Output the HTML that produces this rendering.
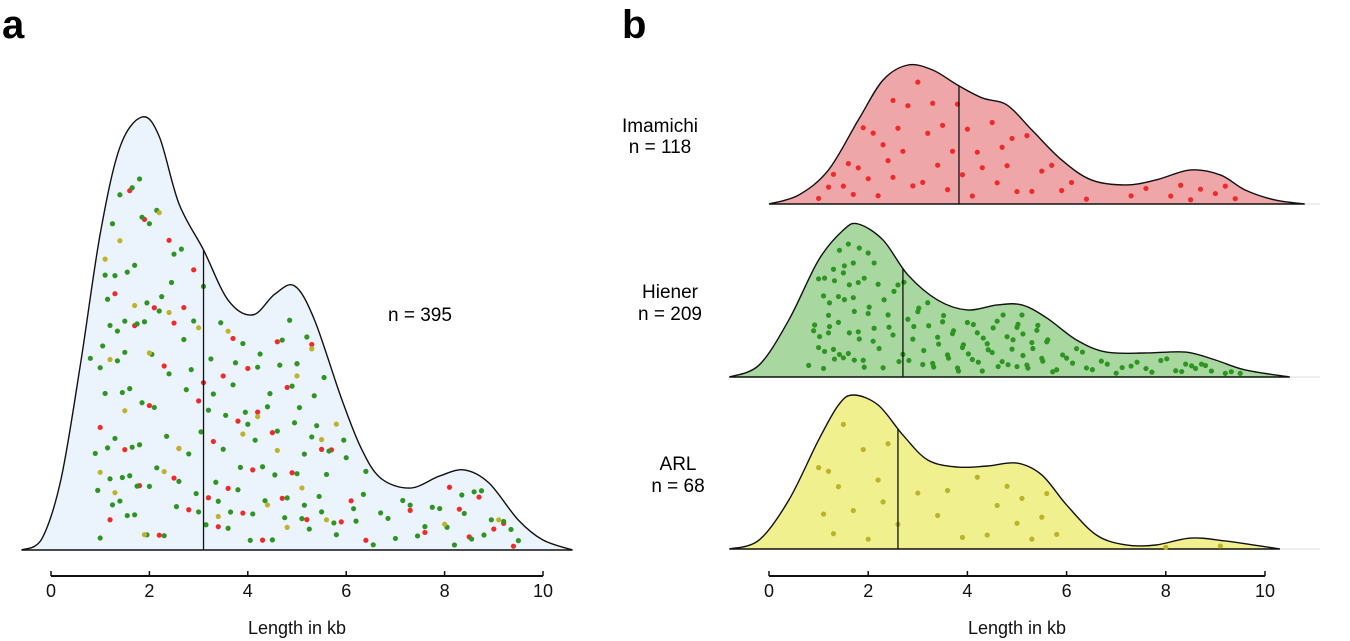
<!DOCTYPE html>
<html><head><meta charset="utf-8"><style>
html,body{margin:0;padding:0;background:#fff;}
svg{display:block;font-family:"Liberation Sans",Arial,sans-serif;}
</style></head><body>
<svg id="chart" width="1350" height="641" viewBox="0 0 1350 641" xmlns="http://www.w3.org/2000/svg">
<text x="2" y="38" font-size="40" font-weight="bold">a</text>
<text x="622" y="38" font-size="40" font-weight="bold">b</text>
<text x="388" y="321" font-size="19">n = 395</text>
<text x="660" y="132" font-size="19" text-anchor="middle">Imamichi</text>
<text x="660" y="153" font-size="19" text-anchor="middle">n = 118</text>
<text x="670" y="298" font-size="19" text-anchor="middle">Hiener</text>
<text x="670" y="320" font-size="19" text-anchor="middle">n = 209</text>
<text x="678" y="470" font-size="19" text-anchor="middle">ARL</text>
<text x="678" y="492" font-size="19" text-anchor="middle">n = 68</text>
<g id="layer"></g>
</svg>
<script>
// ---- data ----
const ticks = [0,2,4,6,8,10];
const ticksLabels = ["0","2","4","6","8","10"];
const allKb = [-0.6,-0.2,0.2,0.6,1.0,1.4,1.85,2.2,2.6,3.1,3.6,4.1,4.55,4.95,5.35,5.9,6.3,6.7,7.3,7.9,8.4,8.9,9.5,10.0,10.6];
const allDens = [0,0.023,0.162,0.43,0.73,0.93,1.0,0.955,0.80,0.693,0.577,0.543,0.591,0.610,0.533,0.351,0.236,0.166,0.143,0.171,0.185,0.155,0.069,0.023,0];
const allMedian = 3.1;
const imaKb = [0,0.6,1.2,1.8,2.3,2.8,3.3,3.8,4.3,4.8,5.3,5.9,6.5,7.2,7.8,8.5,9.1,9.6,10.2,10.8];
const imaDens = [0,0.065,0.245,0.604,0.892,1.0,0.964,0.856,0.763,0.712,0.532,0.317,0.173,0.137,0.173,0.245,0.209,0.101,0.029,0];
const imaMedian = 3.83;
const hieKb = [-0.8,-0.2,0.4,1.0,1.5,1.8,2.3,2.8,3.4,4.0,4.6,5.1,5.6,6.2,6.8,7.6,8.4,9.0,9.6,10.5];
const hieDens = [0,0.078,0.373,0.765,0.961,1.0,0.895,0.667,0.503,0.438,0.471,0.471,0.386,0.242,0.163,0.157,0.163,0.111,0.046,0];
const hieMedian = 2.7;
const arlKb = [-0.8,-0.2,0.4,1.0,1.4,1.7,2.2,2.7,3.2,3.8,4.4,5.0,5.5,6.0,6.6,7.2,7.8,8.5,9.2,10.3];
const arlDens = [0,0.058,0.318,0.708,0.935,1.0,0.935,0.740,0.578,0.532,0.539,0.558,0.481,0.286,0.091,0.026,0.026,0.071,0.052,0];
const arlMedian = 2.6;
const imaDots = [1.0,1.2,1.3,1.5,1.6,1.7,1.8,1.9,2.0,2.1,2.2,2.3,2.4,2.5,2.5,2.6,2.7,2.8,2.9,3.0,3.1,3.2,3.3,3.4,3.5,3.6,3.7,3.8,3.9,4.0,4.1,4.2,4.3,4.5,4.6,4.7,4.8,4.9,5.0,5.2,5.3,5.5,5.7,5.9,6.1,6.4,7.3,7.6,8.1,8.3,8.5,8.7,9.0,9.2,9.4];
const hieDots = [0.8,0.9,1.0,1.0,1.1,1.1,1.2,1.2,1.3,1.3,1.4,1.4,1.5,1.5,1.6,1.6,1.7,1.7,1.8,1.8,1.9,2.0,2.0,2.1,2.2,2.3,2.4,2.5,2.6,2.7,2.8,2.9,3.0,3.1,3.2,3.3,3.4,3.5,3.6,3.7,3.8,3.9,4.0,4.1,4.2,4.3,4.4,4.5,4.6,4.7,4.8,4.9,5.0,5.0,5.1,5.2,5.3,5.4,5.5,5.6,5.8,6.0,6.2,6.4,6.7,7.0,7.3,7.6,7.9,8.2,8.4,8.6,8.8,9.2,9.5];
const arlDots = [1.0,1.1,1.2,1.3,1.4,1.5,1.7,1.9,2.0,2.2,2.3,2.4,2.6,3.0,3.4,3.6,3.9,4.2,4.4,4.6,4.8,5.0,5.1,5.3,5.5,5.6,5.8,8.0,9.1];
const jitB = [0.15,0.55,0.8,0.3,0.65,0.1,0.45,0.9,0.25,0.7,0.05,0.5,0.35,0.85,0.2,0.6,0.4,0.75,0.12,0.95];
const jitA = [0.4,0.08,0.7,0.25,0.9,0.55,0.15,0.8,0.35,0.6,0.03,0.48,0.85,0.2,0.65,0.3,0.75,0.12,0.92,0.5,0.58,0.18];

const NS="http://www.w3.org/2000/svg";
const layer=document.getElementById('layer');
function el(t,a){const e=document.createElementNS(NS,t);for(const k in a)e.setAttribute(k,a[k]);layer.appendChild(e);return e;}
const sxA=v=>51+v*49.2, sxB=v=>769+v*49.6;
function interp(kb,d,v){if(v<=kb[0]||v>=kb[kb.length-1])return 0;for(let i=0;i<kb.length-1;i++){if(v<=kb[i+1]){const t=(v-kb[i])/(kb[i+1]-kb[i]);return d[i]+(d[i+1]-d[i])*t;}}return 0;}
function curvePath(kb,d,sx,base,h){
  const P=kb.map((k,i)=>[sx(k),base-d[i]*h]);
  let s=`M${P[0][0]},${base} L${P[0][0]},${P[0][1]}`;
  for(let i=0;i<P.length-1;i++){const p0=P[Math.max(0,i-1)],p1=P[i],p2=P[i+1],p3=P[Math.min(P.length-1,i+2)];
    const c1=[p1[0]+(p2[0]-p0[0])/6,p1[1]+(p2[1]-p0[1])/6],c2=[p2[0]-(p3[0]-p1[0])/6,p2[1]-(p3[1]-p1[1])/6];
    s+=` C${c1[0]},${Math.min(base,c1[1])} ${c2[0]},${Math.min(base,c2[1])} ${p2[0]},${p2[1]}`;}
  return s+` L${P[P.length-1][0]},${base} Z`;}
function ridge(name,kb,d,sx,base,h,fill,median,lineEnd){
  const g=el('line',{x1:sx(kb[0]),x2:lineEnd,y1:base,y2:base,stroke:'#ddd','stroke-width':1});
  
  
  const p=el('path',{d:curvePath(kb,d,sx,base,h),fill:fill,stroke:'#111','stroke-width':1.4});
  
  
}
function medLine(name,kb,d,sx,base,h,m){
  const l=el('line',{x1:sx(m),x2:sx(m),y1:base,y2:base-interp(kb,d,m)*h,stroke:'#111','stroke-width':1.3});
  
  
}
function dots(name,arr,kb,d,sx,base,h,col,jit,off){
  arr.forEach((v,i)=>{const hh=interp(kb,d,v)*h;const f=jit[(i+off)%jit.length];
    const c=el('circle',{cx:sx(v),cy:base-3-f*(hh-8)*0.97,r:2.6,fill:col});
    
    });
}
function axis(name,sx){
  const a=el('line',{x1:sx(0),x2:sx(10),y1:576,y2:576,stroke:'#111','stroke-width':2});
  
  
  ticks.forEach((t,i)=>{const tk=el('line',{x1:sx(t),x2:sx(t),y1:571,y2:576,stroke:'#111','stroke-width':1.5});
    
    
    const tl=el('text',{x:sx(t),y:597,'font-size':18,'text-anchor':'middle',fill:'#111'});tl.textContent=ticksLabels[i];
    
    });
  const ti=el('text',{x:sx(5),y:634,'font-size':18,'text-anchor':'middle',fill:'#111'});ti.textContent='Length in kb';
  
  
}
const RED='#ee2a2a',GRN='#2e9422',YEL='#beb22a';
// panel a
ridge('all',allKb,allDens,sxA,550,433,'#ebf3fc',allMedian,572);
dots('all-imamichi',imaDots,allKb,allDens,sxA,550,433,RED,jitA,0);
dots('all-hiener',hieDots,allKb,allDens,sxA,550,433,GRN,jitA,7);
dots('all-hiener2',hieDots.map(v=>v+0.15).filter(v=>v<9.4),allKb,allDens,sxA,550,433,GRN,jitA,13);
dots('all-arl',arlDots,allKb,allDens,sxA,550,433,YEL,jitA,3);
medLine('all',allKb,allDens,sxA,550,433,allMedian);
axis('panel-a',sxA);
// panel b
ridge('imamichi',imaKb,imaDens,sxB,204,139,'#eea6a8',imaMedian,1320);
dots('imamichi',imaDots,imaKb,imaDens,sxB,204,139,RED,jitB,0);
medLine('imamichi',imaKb,imaDens,sxB,204,139,imaMedian);
ridge('hiener',hieKb,hieDens,sxB,377,153,'#a8d8a0',hieMedian,1320);
dots('hiener',hieDots,hieKb,hieDens,sxB,377,153,GRN,jitB,5);
dots('hiener2',hieDots.map(v=>v+0.12).filter(v=>v<9.6),hieKb,hieDens,sxB,377,153,GRN,jitB,11);
medLine('hiener',hieKb,hieDens,sxB,377,153,hieMedian);
ridge('arl',arlKb,arlDens,sxB,549,154,'#f1f08e',arlMedian,1320);
dots('arl',arlDots,arlKb,arlDens,sxB,549,154,YEL,jitB,2);
medLine('arl',arlKb,arlDens,sxB,549,154,arlMedian);
axis('panel-b',sxB);
</script>
</body></html>
